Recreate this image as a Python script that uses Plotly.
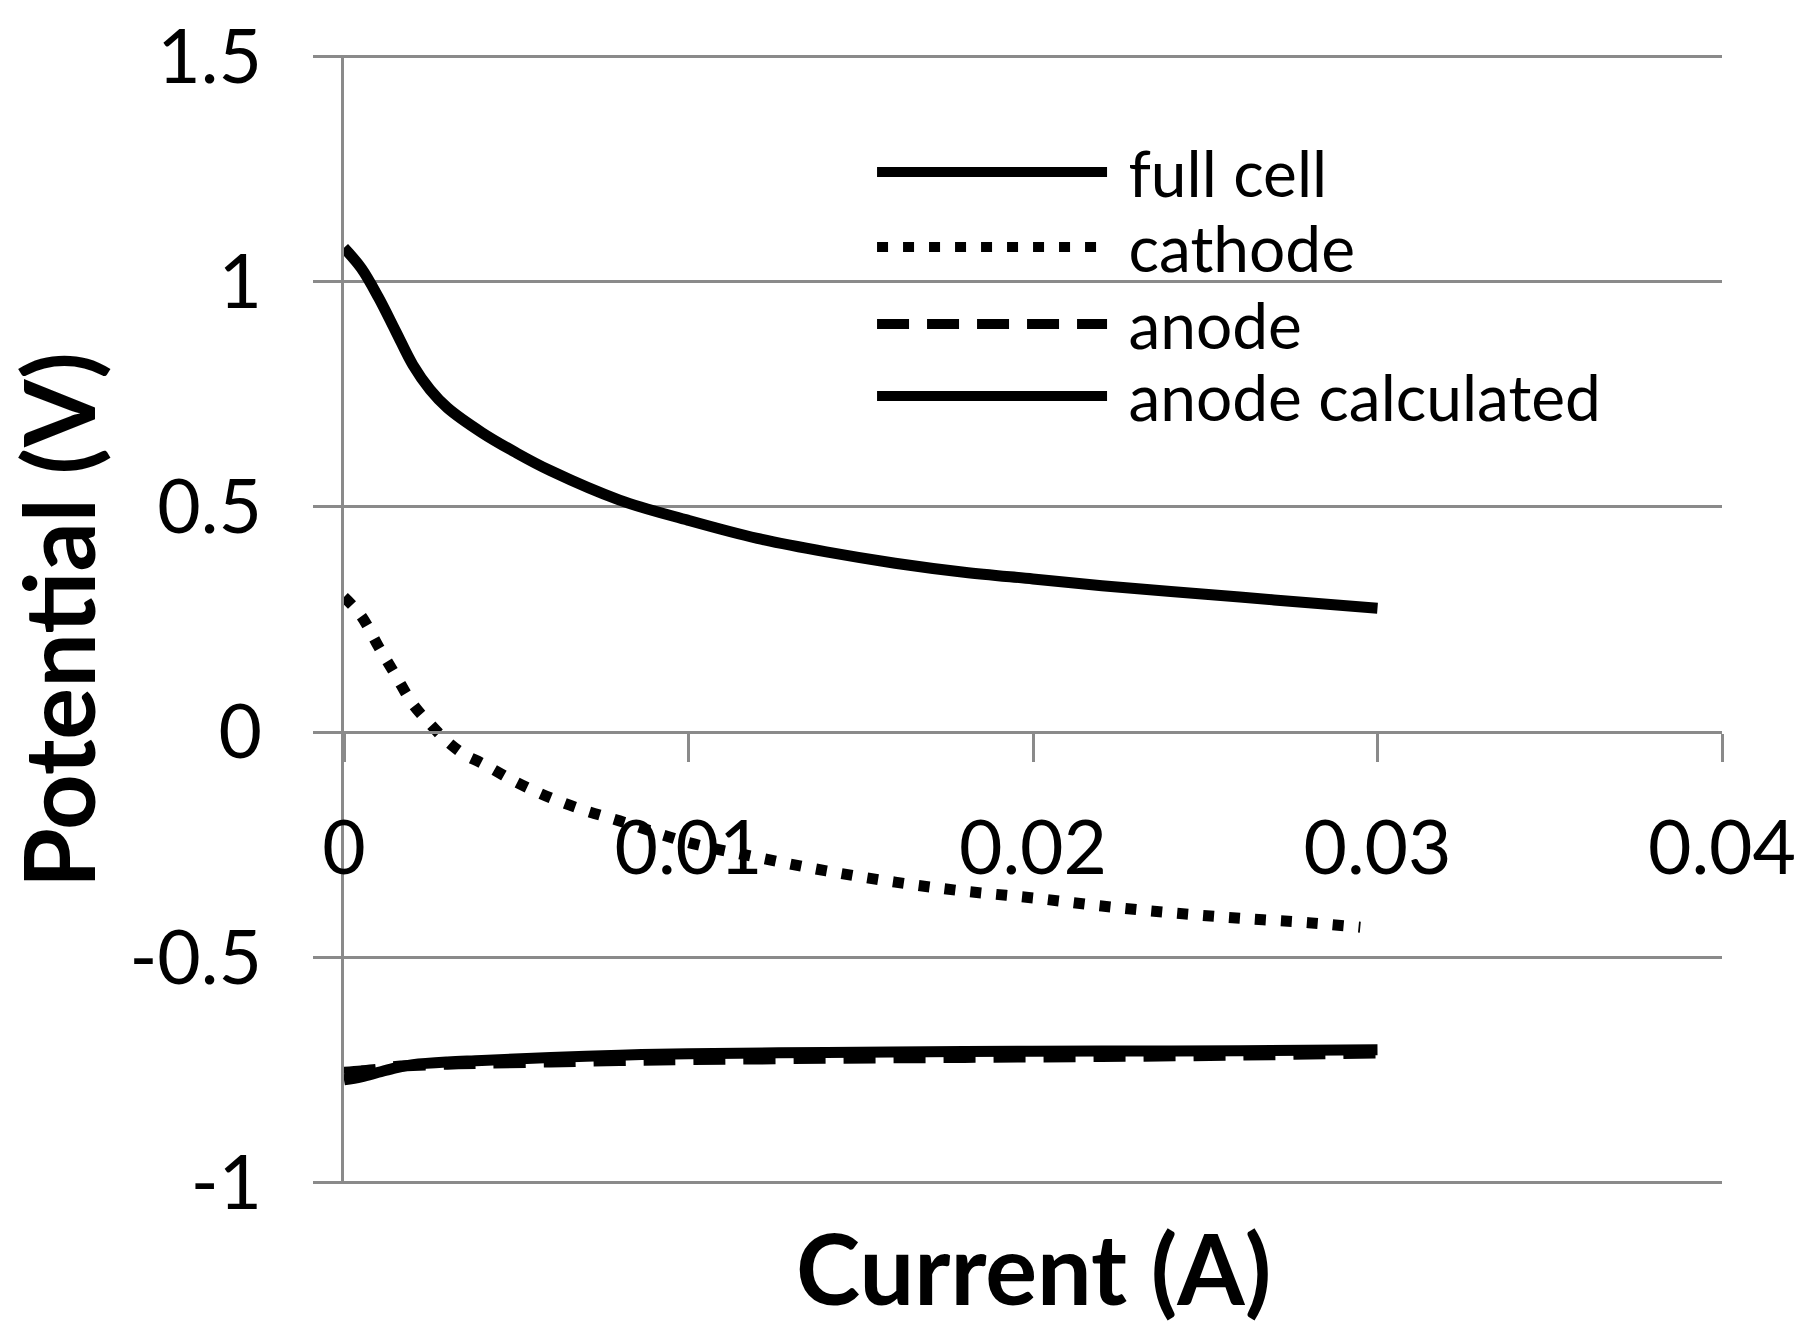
import plotly.graph_objects as go

# ---- data ----
full_x = [0, 0.0005, 0.001, 0.0015, 0.002, 0.0025, 0.003, 0.004, 0.005, 0.006, 0.008,
          0.010, 0.012, 0.014, 0.016, 0.018, 0.020, 0.022, 0.024, 0.026, 0.028, 0.030]
full_y = [1.075, 1.03, 0.965, 0.89, 0.815, 0.76, 0.72, 0.665, 0.62, 0.58, 0.515,
          0.47, 0.43, 0.40, 0.375, 0.355, 0.34, 0.325, 0.312, 0.30, 0.287, 0.275]

cath_x = [0, 0.0005, 0.001, 0.0015, 0.002, 0.0025, 0.003, 0.0035, 0.004, 0.005, 0.006, 0.007,
          0.008, 0.010, 0.012, 0.014, 0.016, 0.018, 0.020, 0.022, 0.024, 0.026, 0.028, 0.0295]
cath_y = [0.30, 0.258, 0.19, 0.126, 0.062, 0.018, -0.021, -0.050, -0.069, -0.111, -0.146, -0.174,
          -0.197, -0.245, -0.278, -0.308, -0.333, -0.353, -0.368, -0.386, -0.401, -0.413, -0.423, -0.433]

anode_x = [0, 0.0005, 0.001, 0.0015, 0.002, 0.003, 0.004, 0.006, 0.008, 0.010, 0.014, 0.018, 0.022, 0.026, 0.030]
anode_y = [-0.755, -0.752, -0.748, -0.742, -0.740, -0.737, -0.735, -0.732, -0.729, -0.727, -0.724, -0.722, -0.720, -0.717, -0.712]

calc_x = [0, 0.0005, 0.001, 0.0015, 0.002, 0.003, 0.004, 0.006, 0.008, 0.010, 0.014, 0.018, 0.022, 0.026, 0.030]
calc_y = [-0.772, -0.765, -0.755, -0.745, -0.738, -0.732, -0.729, -0.722, -0.717, -0.714, -0.711, -0.709, -0.708, -0.707, -0.705]

series_names = ["full cell", "cathode", "anode", "anode calculated"]

x_ticks = [0, 0.01, 0.02, 0.03, 0.04]
x_tick_text = ["0", "0.01", "0.02", "0.03", "0.04"]
y_ticks = [-1, -0.5, 0, 0.5, 1, 1.5]
y_tick_text = ["-1", "-0.5", "0", "0.5", "1", "1.5"]

FONT = "Lato, 'Open Sans', sans-serif"
GRID = "#8a8a8a"
NB = "\u00a0"

fig = go.Figure()
fig.add_trace(go.Scatter(x=full_x, y=full_y, mode="lines", name=NB + series_names[0], legend="legend",
                         showlegend=True,
                         line=dict(color="black", width=11, shape="spline")))
fig.add_trace(go.Scatter(x=cath_x, y=cath_y, mode="lines", name=NB + series_names[1], legend="legend2",
                         showlegend=True,
                         line=dict(color="black", width=11, dash="11px,15px", shape="spline")))
fig.add_trace(go.Scatter(x=anode_x, y=anode_y, mode="lines", name=NB + series_names[2], legend="legend3",
                         showlegend=True,
                         line=dict(color="black", width=11, dash="32px,18px", shape="spline")))
fig.add_trace(go.Scatter(x=calc_x, y=calc_y, mode="lines", name=NB + series_names[3], legend="legend4",
                         showlegend=True,
                         line=dict(color="black", width=11, shape="spline")))


def leg(yc):
    return dict(x=0.3832, y=yc, xanchor="left", yanchor="middle",
                bgcolor="rgba(0,0,0,0)", font=dict(size=64, family=FONT),
                itemwidth=230)


fig.update_layout(
    width=1800, height=1329,
    showlegend=True,
    margin=dict(l=344, r=78, t=55, b=145, autoexpand=False),
    paper_bgcolor="white", plot_bgcolor="white",
    font=dict(family=FONT, color="black"),
    xaxis=dict(range=[0, 0.04], anchor="free", position=0.4, automargin=False,
               showgrid=False, zeroline=False,
               showline=True, linecolor=GRID, linewidth=3,
               ticks="outside", ticklen=28, tickwidth=3, tickcolor=GRID,
               tickvals=x_ticks, ticktext=x_tick_text,
               tickfont=dict(size=75, family=FONT), ticklabelstandoff=22),
    yaxis=dict(range=[-1.003, 1.503], automargin=False,
               showgrid=True, gridcolor=GRID, gridwidth=3,
               zeroline=False, showline=True, linecolor=GRID, linewidth=3,
               ticks="outside", ticklen=28, tickwidth=3, tickcolor=GRID,
               tickvals=y_ticks, ticktext=y_tick_text,
               tickfont=dict(size=75, family=FONT), ticklabelstandoff=36),
    legend=leg(0.896),
    legend2=leg(0.8296),
    legend3=leg(0.7614),
    legend4=leg(0.6976),
    annotations=[
        dict(text="<b>Current (A)</b>", x=0.5, y=-0.074, xref="paper", yref="paper",
             xanchor="center", yanchor="middle", showarrow=False,
             font=dict(size=97, family=FONT)),
        dict(text="<b>Potential (V)</b>", x=-0.208, y=0.5, xref="paper", yref="paper",
             xanchor="center", yanchor="middle", showarrow=False, textangle=-90,
             font=dict(size=97, family=FONT)),
    ],
)

fig.write_html("out.html")
